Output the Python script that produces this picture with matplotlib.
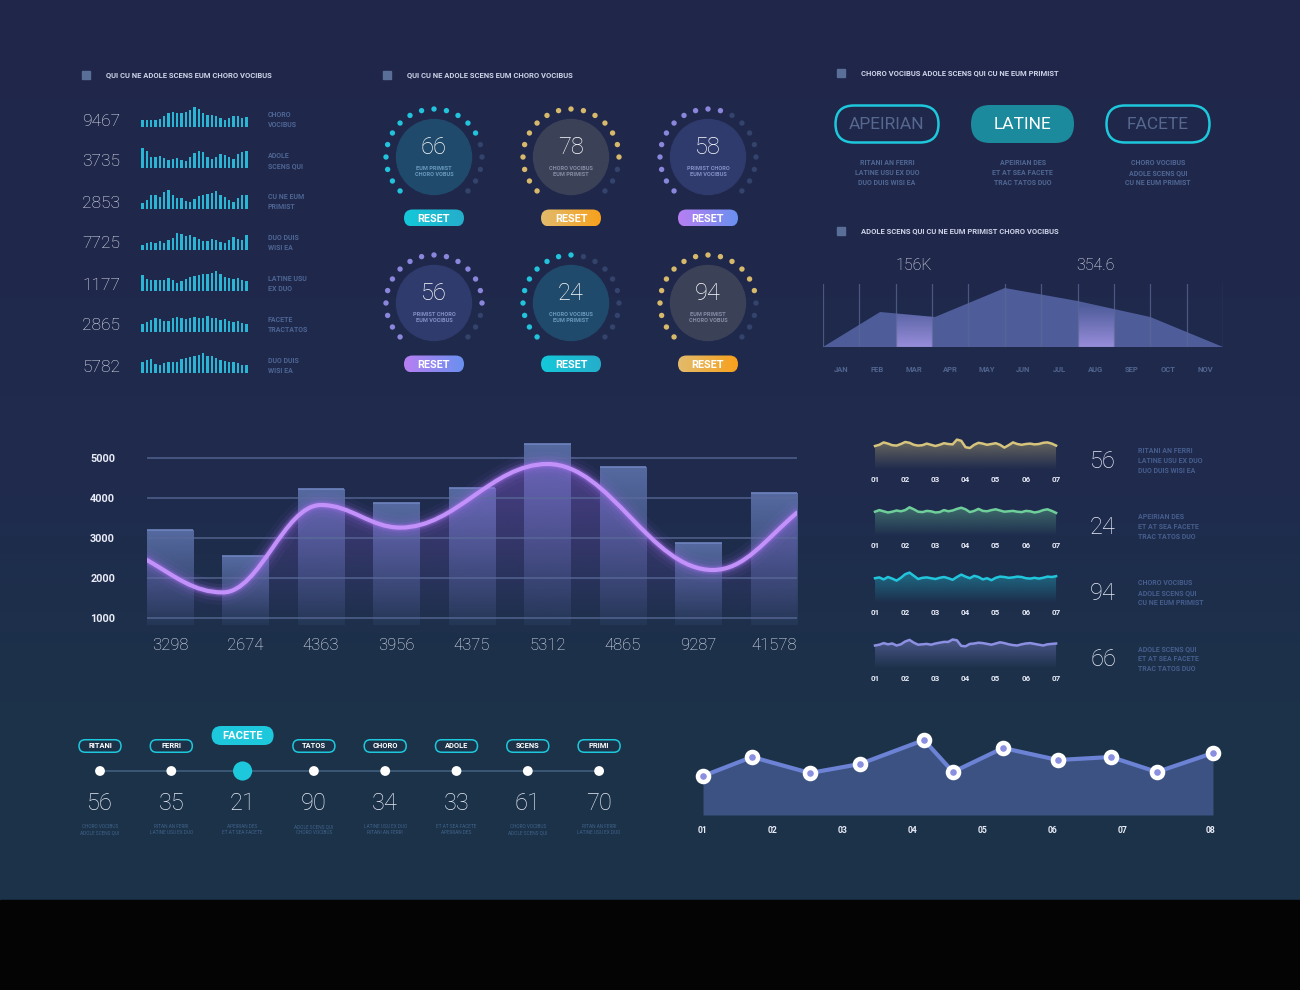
import numpy as np
import matplotlib.pyplot as plt
from matplotlib.patches import FancyBboxPatch, Circle, Rectangle, PathPatch
from matplotlib.path import Path
from matplotlib.colors import to_rgb

W, H = 1300, 990
plt.rcParams['font.family'] = ['Roboto', 'DejaVu Sans']

# ---------------- data ----------------
header_left = 'QUI CU NE ADOLE SCENS EUM CHORO VOCIBUS'
header_mid = 'QUI CU NE ADOLE SCENS EUM CHORO VOCIBUS'
header_right = 'CHORO VOCIBUS ADOLE SCENS QUI CU NE EUM PRIMIST'
header_area = 'ADOLE SCENS QUI CU NE EUM PRIMIST CHORO VOCIBUS'

list_values = ['9467', '3735', '2853', '7725', '1177', '2865', '5782']
list_labels = ['CHORO\nVOCIBUS', 'ADOLE\nSCENS QUI', 'CU NE EUM\nPRIMIST', 'DUO DUIS\nWISI EA',
               'LATINE USU\nEX DUO', 'FACETE\nTRACTATOS', 'DUO DUIS\nWISI EA']
spark_1 = [3.5, 3.5, 3.8, 3.8, 4.2, 5.8, 7.3, 7.7, 7.3, 7.3, 7.7, 8.7, 10, 9.2, 7.3, 6.2, 6.2, 5.4, 4.6, 3.8, 4.6, 5.4, 5.4, 4.6, 5.0]
spark_2 = [10, 8.7, 5.8, 5.4, 6.2, 5.0, 4.2, 4.6, 5.0, 4.2, 3.8, 5.4, 7.7, 8.5, 8.1, 5.8, 4.6, 5.8, 6.9, 6.5, 5.4, 4.6, 6.9, 8.1, 8.5]
spark_3 = [3.0, 4.6, 7.0, 6.9, 6.2, 8.5, 9.6, 6.9, 5.8, 5.4, 4.2, 3.5, 5.0, 6.5, 7.3, 7.7, 8.1, 9.2, 7.3, 6.2, 4.6, 3.8, 5.8, 6.9, 6.9]
spark_4 = [2.7, 3.5, 4.2, 3.8, 4.6, 3.8, 5.0, 6.2, 8.5, 8.1, 7.3, 7.7, 6.5, 5.8, 4.6, 4.6, 5.4, 5.0, 4.2, 3.5, 5.0, 6.5, 5.8, 5.0, 7.7]
spark_5 = [8.1, 6.2, 5.4, 5.4, 5.8, 5.4, 6.5, 5.4, 4.2, 5.0, 6.2, 6.9, 7.7, 8.1, 8.5, 8.8, 9.2, 10, 8.8, 7.3, 6.5, 6.2, 6.5, 5.4, 5.0]
spark_6 = [4.2, 5.0, 6.2, 7.3, 6.5, 5.4, 5.8, 6.9, 7.7, 7.3, 6.5, 6.9, 7.7, 6.9, 7.3, 8.1, 7.3, 6.9, 6.2, 6.5, 5.4, 5.0, 5.4, 4.6, 4.2]
spark_7 = [5.4, 6.5, 6.9, 4.6, 4.2, 5.0, 5.4, 5.4, 5.8, 6.9, 7.7, 8.1, 8.8, 9.2, 10, 8.8, 8.5, 7.7, 6.5, 6.2, 5.4, 5.8, 5.0, 4.2, 4.2]
sparks = [spark_1, spark_2, spark_3, spark_4, spark_5, spark_6, spark_7]

gauge_values = [66, 78, 58, 56, 24, 94]
gauge_lit = [14, 16, 11, 16, 10, 15]   # coloured dots out of 19
gauge_colors = ['cyan', 'gold', 'violet', 'violet', 'cyan', 'gold']
gauge_notes = ['EUM PRIMIST\nCHORO VOBUS', 'CHORO VOCIBUS\nEUM PRIMIST', 'PRIMIST CHORO\nEUM VOCIBUS',
               'PRIMIST CHORO\nEUM VOCIBUS', 'CHORO VOCIBUS\nEUM PRIMIST', 'EUM PRIMIST\nCHORO VOBUS']

buttons = ['APEIRIAN', 'LATINE', 'FACETE']
active_button = 1
button_notes = ['RITANI AN FERRI\nLATINE USU EX DUO\nDUO DUIS WISI EA',
                'APEIRIAN DES\nET AT SEA FACETE\nTRAC TATOS DUO',
                'CHORO VOCIBUS\nADOLE SCENS QUI\nCU NE EUM PRIMIST']

months = ['JAN', 'FEB', 'MAR', 'APR', 'MAY', 'JUN', 'JUL', 'AUG', 'SEP', 'OCT', 'NOV']
area_x = [0, 1.57, 3.08, 5.0, 7.0, 9.0, 11.0]
area_y = [0, 35, 30, 59, 46, 30, 0]
highlight_cols = [2, 7]
highlight_tags = ['156K', '354.6']

bar_values = [3200, 2550, 4225, 3875, 4250, 5350, 4775, 2875, 4125]
bar_labels = ['3298', '2674', '4363', '3956', '4375', '5312', '4865', '9287', '41578']
y_ticks = [1000, 2000, 3000, 4000, 5000]
curve_x = [-0.305, 0.70, 2.0, 3.05, 5.0, 7.19, 8.30]
curve_y = [2450, 1640, 3825, 3260, 4850, 2200, 3625]
curve_slope = [-1100, 0, 0, 0, 0, 0, 1600]

wave_1 = [6.0, 6.3, 6.9, 6.6, 6.2, 6.1, 6.5, 7.0, 6.8, 6.3, 6.1, 6.2, 6.6, 6.3, 6.0, 6.3, 6.7, 6.5, 6.4, 7.6, 7.3, 5.7,
          5.5, 6.3, 6.8, 6.6, 6.3, 6.5, 6.7, 6.3, 5.6, 6.2, 6.9, 6.5, 6.3, 6.5, 6.6, 6.4, 6.5, 6.8, 6.9, 6.6, 6.1]
wave_2 = [6.2, 6.6, 6.3, 6.0, 6.2, 6.5, 6.3, 6.6, 7.3, 6.8, 6.2, 6.1, 6.4, 6.3, 6.0, 6.1, 6.6, 6.3, 6.5, 6.9, 7.2, 6.8,
          6.1, 6.4, 6.9, 6.4, 6.3, 6.6, 6.8, 6.5, 6.2, 6.3, 6.4, 6.2, 6.1, 6.4, 6.3, 6.0, 6.2, 6.6, 6.8, 6.4, 5.9]
wave_3 = [6.2, 6.4, 5.9, 6.5, 6.1, 5.6, 6.3, 7.2, 7.6, 6.8, 6.0, 6.3, 6.4, 6.2, 6.0, 6.3, 6.5, 6.2, 5.8, 6.5, 7.1, 6.6,
          6.2, 6.8, 6.5, 5.9, 6.2, 5.7, 6.3, 6.6, 6.5, 6.3, 6.4, 6.6, 6.5, 6.2, 6.1, 6.3, 6.1, 6.3, 6.6, 6.5, 6.7]
wave_4 = [6.0, 6.2, 6.6, 6.3, 6.5, 6.0, 6.3, 7.0, 7.4, 6.7, 6.2, 6.3, 6.4, 6.2, 6.5, 6.7, 6.9, 6.9, 7.5, 7.3, 5.9, 5.8,
          6.4, 6.5, 6.7, 6.6, 6.4, 6.2, 6.5, 6.8, 6.6, 6.3, 6.1, 6.0, 6.3, 6.5, 6.6, 6.4, 6.2, 6.0, 6.3, 6.4, 6.5]
waves = [wave_1, wave_2, wave_3, wave_4]
wave_colors = ['#d6c47c', '#6fcf9b', '#22c6dc', '#8d90e2']
wave_ticks = ['01', '02', '03', '04', '05', '06', '07']
wave_numbers = ['56', '24', '94', '66']
wave_notes = ['RITANI AN FERRI\nLATINE USU EX DUO\nDUO DUIS WISI EA',
              'APEIRIAN DES\nET AT SEA FACETE\nTRAC TATOS DUO',
              'CHORO VOCIBUS\nADOLE SCENS QUI\nCU NE EUM PRIMIST',
              'ADOLE SCENS QUI\nET AT SEA FACETE\nTRAC TATOS DUO']

steps = ['RITANI', 'FERRI', 'FACETE', 'TATOS', 'CHORO', 'ADOLE', 'SCENS', 'PRIMI']
step_values = [56, 35, 21, 90, 34, 33, 61, 70]
active_step = 2
step_notes = ['CHORO VOCIBUS\nADOLE SCENS QUI', 'RITAN AN FERRI\nLATINE USU EX DUO', 'APEIRIAN DES\nET AT SEA FACETE',
              'ADOLE SCENS QUI\nCHORO VOCIBUS', 'LATINE USU EX DUO\nRITANI AN FERRI', 'ET AT SEA FACETE\nAPEIRIAN DES',
              'CHORO VOCIBUS\nADOLE SCENS QUI', 'RITAN AN FERRI\nLATINE USU EX DUO']

line_x = [0, 49, 107, 157, 221, 250, 300, 355, 408, 454, 510]
line_y = [39, 58, 42, 51, 75, 43, 67, 55, 58, 43, 62]
line_ticks = [0, 70, 140, 210, 280, 350, 420, 507]
line_tick_labels = ['01', '02', '03', '04', '05', '06', '07', '08']

# ---------------- style ----------------
TXT = '#e9ecf7'
HEAD = '#cdd3e7'
MUTED = '#4d6594'
CYAN = '#1ec8dc'
palette = {
    'cyan': dict(dot='#22c3db', disc='#1f4a6b', note='#6a9ac0', btn=('#14c8da', '#25aecb')),
    'gold': dict(dot='#d7b96b', disc='#3b4157', note='#858ea6', btn=('#e2bb6c', '#f8a11c')),
    'violet': dict(dot='#8a86dc', disc='#2f3b6c', note='#8390c6', btn=('#b77ff3', '#6a90ef')),
}

fig = plt.figure(figsize=(W / 100, H / 100), dpi=100)
bg = fig.add_axes([0, 0, 1, 1])
bg.axis('off')


def px_axes(x0, y0, x1, y1):
    ax = fig.add_axes([x0 / W, 1 - y1 / H, (x1 - x0) / W, (y1 - y0) / H])
    ax.patch.set_visible(False)
    for s in ax.spines.values():
        s.set_visible(False)
    ax.tick_params(length=0)
    ax.set_xticks([])
    ax.set_yticks([])
    return ax


def vgrad(ax, clip, color, a_top, a_bot, x0, x1, y_bot, y_top, z=2):
    arr = np.zeros((128, 1, 4))
    arr[:, 0, :3] = to_rgb(color)
    arr[:, 0, 3] = np.linspace(a_top, a_bot, 128)
    im = ax.imshow(arr, extent=(x0, x1, y_bot, y_top), origin='upper', aspect='auto',
                   zorder=z, interpolation='bilinear')
    im.set_clip_path(clip)
    return im


def hgrad(ax, clip, c0, c1, x0, x1, y_bot, y_top, z=3):
    t = np.linspace(0, 1, 128)[None, :, None]
    arr = (1 - t) * np.array(to_rgb(c0)) + t * np.array(to_rgb(c1))
    im = ax.imshow(arr, extent=(x0, x1, y_bot, y_top), origin='upper', aspect='auto',
                   zorder=z, interpolation='bilinear')
    im.set_clip_path(clip)
    return im


def pill(cx, cy, w, h, fc='none', ec='none', lw=0, z=3):
    p = FancyBboxPatch((cx - w / 2, cy - h / 2), w, h, boxstyle=f'round,pad=0,rounding_size={h / 2}',
                       fc=fc, ec=ec, lw=lw, zorder=z)
    bg.add_patch(p)
    return p


def header(x, y, text):
    bg.add_patch(Rectangle((x, y - 4), 8, 8, color='#5a6f98', zorder=3))
    bg.text(x + 24, y, text, fontsize=5.5, fontweight='bold', color=HEAD, va='center', zorder=4)


# background
stops = [0, 0.55, 0.78, 1.0]
cols = np.array([to_rgb(c) for c in ['#1f2649', '#1f2b4e', '#1c3249', '#1b3349']])
tt = np.linspace(0, 1, 900)
grad = np.stack([np.interp(tt, stops, cols[:, k]) for k in range(3)], axis=-1)[:, None, :]
bg.imshow(grad, extent=(0, W, 900, 0), origin='upper', aspect='auto', zorder=0)
bg.add_patch(Rectangle((0, 900), W, 90, color='#040404', zorder=1))

# ---------------- top-left list ----------------
header(82, 75, header_left)
for k, (val, lab, sp) in enumerate(zip(list_values, list_labels, sparks)):
    y = 121 + 41 * k
    bg.text(82, y, val, fontsize=12.5, fontweight='light', color=TXT, va='center', ha='left', zorder=4)
    bg.text(268, y - 1, lab, fontsize=5, fontweight='bold', color=MUTED, va='center', ha='left',
            linespacing=1.25, zorder=4)
    ax = px_axes(140, 107 + 41 * k, 249, 127 + 41 * k)
    ax.bar(np.arange(len(sp)), sp, width=0.52, color='#2bb5d4')
    ax.set_xlim(-0.6, len(sp) - 0.4)
    ax.set_ylim(0, 10.2)

# ---------------- gauges ----------------
header(383, 75, header_mid)
gauge_centers = [(434, 157), (571, 157), (708, 157), (434, 303), (571, 303), (708, 303)]
for i, (cx, cy) in enumerate(gauge_centers):
    p = palette[gauge_colors[i]]
    ax = px_axes(cx - 60, cy - 60, cx + 60, cy + 60)
    ax.set_xlim(-60, 60)
    ax.set_ylim(-60, 60)
    ax.add_patch(Circle((0, 0), 37.5, color=p['disc'], zorder=1))
    ang = np.radians(np.linspace(225, -45, 19))
    dot_cols = [p['dot'] if k < gauge_lit[i] else '#33436c' for k in range(19)]
    ax.scatter(48 * np.cos(ang), 48 * np.sin(ang), s=15, c=dot_cols, linewidths=0, zorder=2)
    ax.text(0, 10, str(gauge_values[i]), fontsize=17, fontweight='light', color='white',
            ha='center', va='center', zorder=3)
    ax.text(0, -14.5, gauge_notes[i], fontsize=4.1, fontweight='bold', color=p['note'],
            ha='center', va='center', linespacing=1.3, zorder=3)
    ry = 218 if cy < 200 else 364
    pb = pill(cx, ry, 60, 17, fc='none')
    hgrad(bg, pb, p['btn'][0], p['btn'][1], cx - 30, cx + 30, ry + 8.5, ry - 8.5)
    bg.text(cx, ry + 0.5, 'RESET', fontsize=7.8, fontweight='bold', color='white', ha='center',
            va='center', zorder=5)

# ---------------- buttons top-right ----------------
header(837, 73, header_right)
for i, (name, note) in enumerate(zip(buttons, button_notes)):
    cx = 887 + 135.5 * i
    if i == active_button:
        pill(cx, 124, 103, 38, fc='#1c8a9d')
        bg.text(cx, 124.5, name, fontsize=12.5, color='white', ha='center', va='center', zorder=5)
    else:
        pill(cx, 124, 103, 37, ec=CYAN, lw=1.8)
        bg.text(cx, 124.5, name, fontsize=12.5, color='#56688f', ha='center', va='center', zorder=5)
    bg.text(cx, 173, note, fontsize=5, fontweight='bold', color='#4f6794', ha='center', va='center',
            linespacing=1.3, zorder=4)

# ---------------- area chart ----------------
header(837, 231, header_area)
ax = px_axes(823, 284, 1223, 347)
area = ax.fill(area_x, area_y, color='#4e5c9a', lw=0, zorder=1)[0]
for c in highlight_cols:
    vgrad(ax, area, '#a596e6', 0.0, 0.85, c, c + 1, 0, 42, z=2)
for i in range(len(months) + 1):
    ax.axvline(i, color='#5a6794', lw=0.9, alpha=0.75, zorder=3)
ax.axhline(0, color='#5a6794', lw=0.9, zorder=3)
for c, tag in zip(highlight_cols, highlight_tags):
    ax.text(c + 0.5, 82, tag, fontsize=11.5, fontweight='light', color=TXT, ha='center', va='center',
            clip_on=False)
ax.set_xticks(np.arange(len(months)) + 0.5, months, fontsize=5.5, fontweight='bold', color='#51658f')
ax.tick_params(axis='x', pad=14)
ax.set_xlim(0, len(months))
ax.set_ylim(0, 63)

# ---------------- main bar chart ----------------
ax = px_axes(147, 430, 797, 625)
bx = np.arange(len(bar_values))
bars = ax.bar(bx, bar_values, width=0.61, color='none', zorder=2)
for b in bars:
    vgrad(ax, b, '#5b70a9', 0.92, 0.12, b.get_x(), b.get_x() + b.get_width(), 825, b.get_height(), z=2)
ax.hlines(bar_values, bx - 0.305, bx + 0.305, color='#6f84bf', lw=1.2, zorder=3)
for v in y_ticks:
    ax.axhline(v, color='#5a6b9a', lw=1.1, alpha=0.85, zorder=3)

# smooth curve through the knots (cubic bezier segments)
verts = [(curve_x[0], curve_y[0])]
codes = [Path.MOVETO]
for j in range(len(curve_x) - 1):
    x0, y0, x1, y1 = curve_x[j], curve_y[j], curve_x[j + 1], curve_y[j + 1]
    d = (x1 - x0) * 0.38
    verts += [(x0 + d, y0 + curve_slope[j] * d), (x1 - d, y1 - curve_slope[j + 1] * d), (x1, y1)]
    codes += [Path.CURVE4] * 3
under = PathPatch(Path(verts + [(curve_x[-1], 825), (curve_x[0], 825), (0, 0)],
                       codes + [Path.LINETO, Path.LINETO, Path.CLOSEPOLY]), fc='none', ec='none')
ax.add_patch(under)
vgrad(ax, under, '#8b5fdc', 0.4, 0.0, curve_x[0], curve_x[-1], 825, max(curve_y), z=2.5)
for lw, a in [(18, 0.05), (12, 0.09), (7.5, 0.17), (5, 0.3)]:
    ax.add_patch(PathPatch(Path(verts, codes), fc='none', ec='#a66ff0', lw=lw, alpha=a,
                           capstyle='round', zorder=4))
ax.add_patch(PathPatch(Path(verts, codes), fc='none', ec='#c391fa', lw=3, capstyle='round', zorder=5))
ax.set_yticks(y_ticks, [str(v) for v in y_ticks], fontsize=7.8, fontweight='bold', color=TXT)
ax.set_xticks(bx, bar_labels, fontsize=12, fontweight='light', color=TXT)
ax.tick_params(axis='y', pad=23)
ax.tick_params(axis='x', pad=9)
ax.set_xlim(-0.305, 8.305)
ax.set_ylim(825, 5700)

# ---------------- wave rows ----------------
for k, (w, col) in enumerate(zip(waves, wave_colors)):
    top = 430 + 66.5 * k
    ax = px_axes(872, top, 1060, top + 40)
    x = np.linspace(0, 6, len(w))
    shape = ax.fill(list(x) + [6, 0], list(w) + [0, 0], fc='none', ec='none')[0]
    vgrad(ax, shape, col, 0.42, 0.0, 0, 6, 0, max(w), z=1)
    ax.plot(x, w, color=col, lw=1.8, solid_joinstyle='round', zorder=3)
    ax.set_xticks(range(len(wave_ticks)), wave_ticks, fontsize=5.8, fontweight='bold', color=TXT)
    ax.tick_params(axis='x', pad=4)
    ax.set_xlim(-0.1, 6.13)
    ax.set_ylim(0, 10)
    ny = 461 + 66 * k
    bg.text(1103, ny, wave_numbers[k], fontsize=17, fontweight='light', color=TXT, ha='center',
            va='center', zorder=4)
    bg.text(1138, ny, wave_notes[k], fontsize=5, fontweight='bold', color='#465e8e', ha='left',
            va='center', linespacing=1.3, zorder=4)

# ---------------- timeline ----------------
tl_x0, tl_x1 = 64.35, 634.75
ax = px_axes(tl_x0, 725, tl_x1, 845)
si = np.arange(len(steps))
ax.plot(si, [771] * len(si), color='#3d5a7a', lw=1.3, zorder=1)
sizes = [190 if i == active_step else 50 for i in si]
colors = [CYAN if i == active_step else 'white' for i in si]
ax.scatter(si, [771] * len(si), s=sizes, c=colors, linewidths=0, zorder=3)
for i in si:
    ax.text(i, 803, str(step_values[i]), fontsize=17, fontweight='light', color=TXT, ha='center',
            va='center')
    ax.text(i, 829.5, step_notes[i], fontsize=3.4, color='#41628a', ha='center', va='center',
            linespacing=1.3)
    cx = tl_x0 + (i + 0.5) * (tl_x1 - tl_x0) / len(steps)
    if i == active_step:
        pill(cx, 735.5, 62, 19, fc=CYAN)
        bg.text(cx, 736, steps[i], fontsize=8, fontweight='bold', color='white', ha='center',
                va='center', zorder=5)
    else:
        pill(cx, 746, 42, 12.5, ec=CYAN, lw=1.1)
        bg.text(cx, 746.5, steps[i], fontsize=5.4, fontweight='bold', color='white', ha='center',
                va='center', zorder=5)
ax.set_xlim(-0.5, len(steps) - 0.5)
ax.set_ylim(845, 725)

# ---------------- bottom-right line chart ----------------
ax = px_axes(690, 725, 1226, 815)
ax.fill_between(line_x, line_y, 0, color='#3b5282', lw=0, zorder=1)
ax.plot(line_x, line_y, color='#6b82d5', lw=3, zorder=2)
ax.plot(line_x, line_y, 'o', ms=8, mfc='#8a8fe0', mec='white', mew=3.2, zorder=3, clip_on=False)
ax.set_xticks(line_ticks, line_tick_labels, fontsize=6.2, fontweight='bold', color=TXT)
ax.tick_params(axis='x', pad=8)
ax.set_xlim(-13, 523)
ax.set_ylim(0, 90)

bg.set_xlim(0, W)
bg.set_ylim(H, 0)
fig.savefig('out.png', dpi=100)
